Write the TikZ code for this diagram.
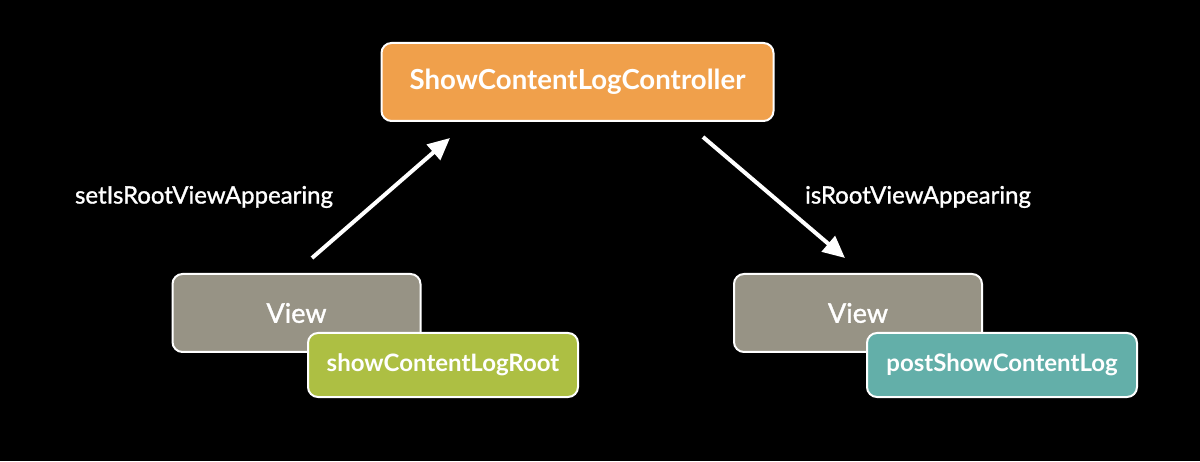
\documentclass[tikz,border=0pt]{standalone}
\usepackage{fontspec}
\setmainfont{Lato}
\newfontfamily\latomedium[FakeBold=1.2]{Lato}
\usetikzlibrary{arrows.meta}

\definecolor{ctrlorange}{HTML}{F0A04B}
\definecolor{viewgray}{HTML}{979385}
\definecolor{rootgreen}{HTML}{ADBF43}
\definecolor{logteal}{HTML}{63AFA9}

\tikzset{
  box/.style={draw=white, line width=1pt, rounded corners=5pt,
    text=white, inner sep=0pt},
  ctrlbox/.style={box, fill=ctrlorange, minimum width=196pt,
    minimum height=39pt, font=\fontsize{13.8}{16}\selectfont\bfseries},
  viewbox/.style={box, fill=viewgray, minimum width=124pt,
    minimum height=39pt, font=\latomedium\fontsize{13.5}{16}\selectfont},
  rootbox/.style={box, fill=rootgreen, minimum width=135pt,
    minimum height=32pt, font=\fontsize{12}{14}\selectfont\bfseries},
  logbox/.style={box, fill=logteal, minimum width=135pt,
    minimum height=32pt, font=\fontsize{12}{14}\selectfont\bfseries},
  msg/.style={text=white, font=\latomedium\fontsize{12}{14}\selectfont},
  flow/.style={draw=white, line width=2pt,
    -{Triangle[length=11pt,width=10pt]}}
}

\begin{document}
\begin{tikzpicture}[x=0.5pt, y=0.5pt]
  \fill[black] (0,0) rectangle (1200,461);
  \useasboundingbox (0,0) rectangle (1200,461);

  % controller on top
  \node[ctrlbox] (ctrl) at (577.5,379) {ShowContentLogController};

  % left side
  \node[viewbox] (leftView) at (296.5,148) {View};
  \node[rootbox] (showRoot) at (443,96) {showContentLogRoot};

  % right side
  \node[viewbox] (rightView) at (858,148) {View};
  \node[logbox] (postLog) at (1002,96) {postShowContentLog};

  % messages
  \coordinate (setFrom) at (312,203);
  \coordinate (setTo) at (450,323);
  \coordinate (isFrom) at (703,324);
  \coordinate (isTo) at (845,203);
  \draw[flow] (setFrom) -- (setTo);
  \draw[flow] (isFrom) -- (isTo);

  \node[msg] (setLabel) at (204,264) {setIsRootViewAppearing};
  \node[msg] (isLabel) at (918,264) {isRootViewAppearing};
\end{tikzpicture}
\end{document}
